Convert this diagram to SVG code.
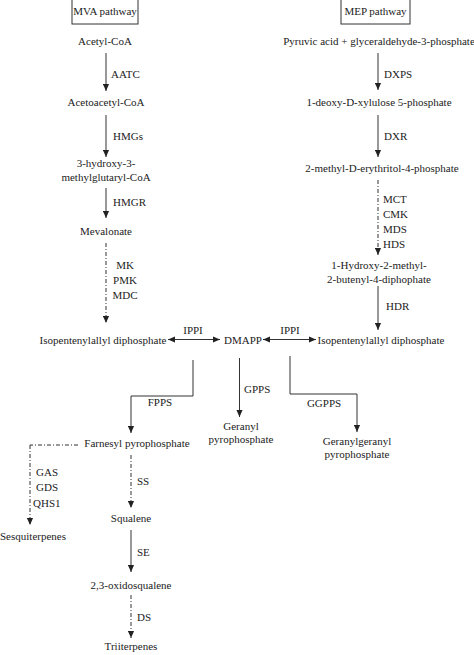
<svg xmlns="http://www.w3.org/2000/svg" width="474" height="655" viewBox="0 0 474 655">
<defs>
<marker id="ah" viewBox="0 0 8 8" refX="8" refY="4" markerWidth="7" markerHeight="7" markerUnits="userSpaceOnUse" orient="auto-start-reverse">
<path d="M0,0.5 L8,4 L0,7.5 Z" fill="#222"/>
</marker>
<style>
text{font-family:"Liberation Serif","Times New Roman",serif;font-size:11px;fill:#222}
.m{text-anchor:middle}
.s{text-anchor:start}
.ln{fill:none;stroke:#333;stroke-width:1}
.ar{fill:none;stroke:#333;stroke-width:1;marker-end:url(#ah)}
.da{fill:none;stroke:#333;stroke-width:1;stroke-dasharray:4 2 1 2;marker-end:url(#ah)}
.dl{fill:none;stroke:#333;stroke-width:1;stroke-dasharray:4 2 1 2}
.bi{fill:none;stroke:#333;stroke-width:1;marker-end:url(#ah);marker-start:url(#ah)}
.box{fill:#fff;stroke:#333;stroke-width:1}
</style>
</defs>
<rect width="474" height="655" fill="#fff"/>

<g id="connectors">
<path class="ar" d="M106,53 V91"/>
<path class="ar" d="M106,115 V157"/>
<path class="ar" d="M106,188 V218"/>
<path class="da" d="M106,243 V323"/>
<path class="ar" d="M378,53 V90"/>
<path class="ar" d="M378,115 V157"/>
<path class="da" d="M378,180 V255"/>
<path class="ar" d="M378,286 V330"/>
<path class="bi" d="M168,339.5 H220"/>
<path class="bi" d="M263,339.5 H316"/>
<path class="ar" d="M193,360 V396 H131 V433"/>
<path class="ar" d="M239.5,358 V417"/>
<path class="ar" d="M290,356 V394 H357 V432"/>
<path class="dl" d="M78,445 H30"/>
<path class="da" d="M30,445 V525"/>
<path class="da" d="M131,455 V508"/>
<path class="ar" d="M131,530 V572"/>
<path class="da" d="M131,595 V638"/>
</g>

<g id="labels">
<text class="s" x="111" y="78">AATC</text>
<text class="s" x="113" y="140">HMGs</text>
<text class="s" x="113" y="206">HMGR</text>
<text class="m" x="125" y="269">MK</text>
<text class="m" x="125" y="284">PMK</text>
<text class="m" x="125" y="299">MDC</text>
<text class="s" x="384" y="78">DXPS</text>
<text class="s" x="384" y="140">DXR</text>
<text class="s" x="383" y="203">MCT</text>
<text class="s" x="383" y="218">CMK</text>
<text class="s" x="383" y="233">MDS</text>
<text class="s" x="383" y="248">HDS</text>
<text class="s" x="386" y="310">HDR</text>
<text class="m" x="193" y="334">IPPI</text>
<text class="m" x="290" y="334">IPPI</text>
<text class="m" x="160" y="406">FPPS</text>
<text class="s" x="244" y="393">GPPS</text>
<text class="m" x="324" y="407">GGPPS</text>
<text class="s" x="36" y="476">GAS</text>
<text class="s" x="36" y="491">GDS</text>
<text class="s" x="33" y="507">QHS1</text>
<text class="s" x="137" y="485">SS</text>
<text class="s" x="137" y="556">SE</text>
<text class="s" x="137" y="621">DS</text>
</g>

<g id="mva-box">
<rect class="box" x="72" y="-1" width="66" height="25"/>
<text class="m" x="105" y="15">MVA pathway</text>
</g>
<g id="mep-box">
<rect class="box" x="341" y="-1" width="69" height="25"/>
<text class="m" x="375.5" y="15">MEP pathway</text>
</g>
<g id="acetyl-coa"><text class="m" x="105" y="45">Acetyl-CoA</text></g>
<g id="acetoacetyl-coa"><text class="m" x="106" y="106">Acetoacetyl-CoA</text></g>
<g id="hmg-coa">
<text class="m" x="106" y="167">3-hydroxy-3-</text>
<text class="m" x="106" y="181">methylglutaryl-CoA</text>
</g>
<g id="mevalonate"><text class="m" x="106" y="235">Mevalonate</text></g>
<g id="ipp-left"><text class="m" x="103" y="344">Isopentenylallyl diphosphate</text></g>
<g id="dmapp"><text class="m" x="243" y="344">DMAPP</text></g>
<g id="ipp-right"><text class="m" x="381" y="344">Isopentenylallyl diphosphate</text></g>
<g id="pyruvic"><text class="m" x="379" y="45">Pyruvic acid + glyceraldehyde-3-phosphate</text></g>
<g id="dxp"><text class="m" x="379" y="106">1-deoxy-D-xylulose 5-phosphate</text></g>
<g id="mep"><text class="m" x="382" y="172">2-methyl-D-erythritol-4-phosphate</text></g>
<g id="hmbpp">
<text class="m" x="379" y="269">1-Hydroxy-2-methyl-</text>
<text class="m" x="379" y="283">2-butenyl-4-diphophate</text>
</g>
<g id="fpp"><text class="m" x="137" y="447">Farnesyl pyrophosphate</text></g>
<g id="gpp">
<text class="m" x="241" y="430">Geranyl</text>
<text class="m" x="241" y="443">pyrophosphate</text>
</g>
<g id="ggpp">
<text class="m" x="357" y="445">Geranylgeranyl</text>
<text class="m" x="357" y="458">pyrophosphate</text>
</g>
<g id="sesquiterpenes"><text class="m" x="33" y="540">Sesquiterpenes</text></g>
<g id="squalene"><text class="m" x="131" y="522">Squalene</text></g>
<g id="oxidosqualene"><text class="m" x="131" y="589">2,3-oxidosqualene</text></g>
<g id="triterpenes"><text class="m" x="131" y="650">Triiterpenes</text></g>
</svg>
